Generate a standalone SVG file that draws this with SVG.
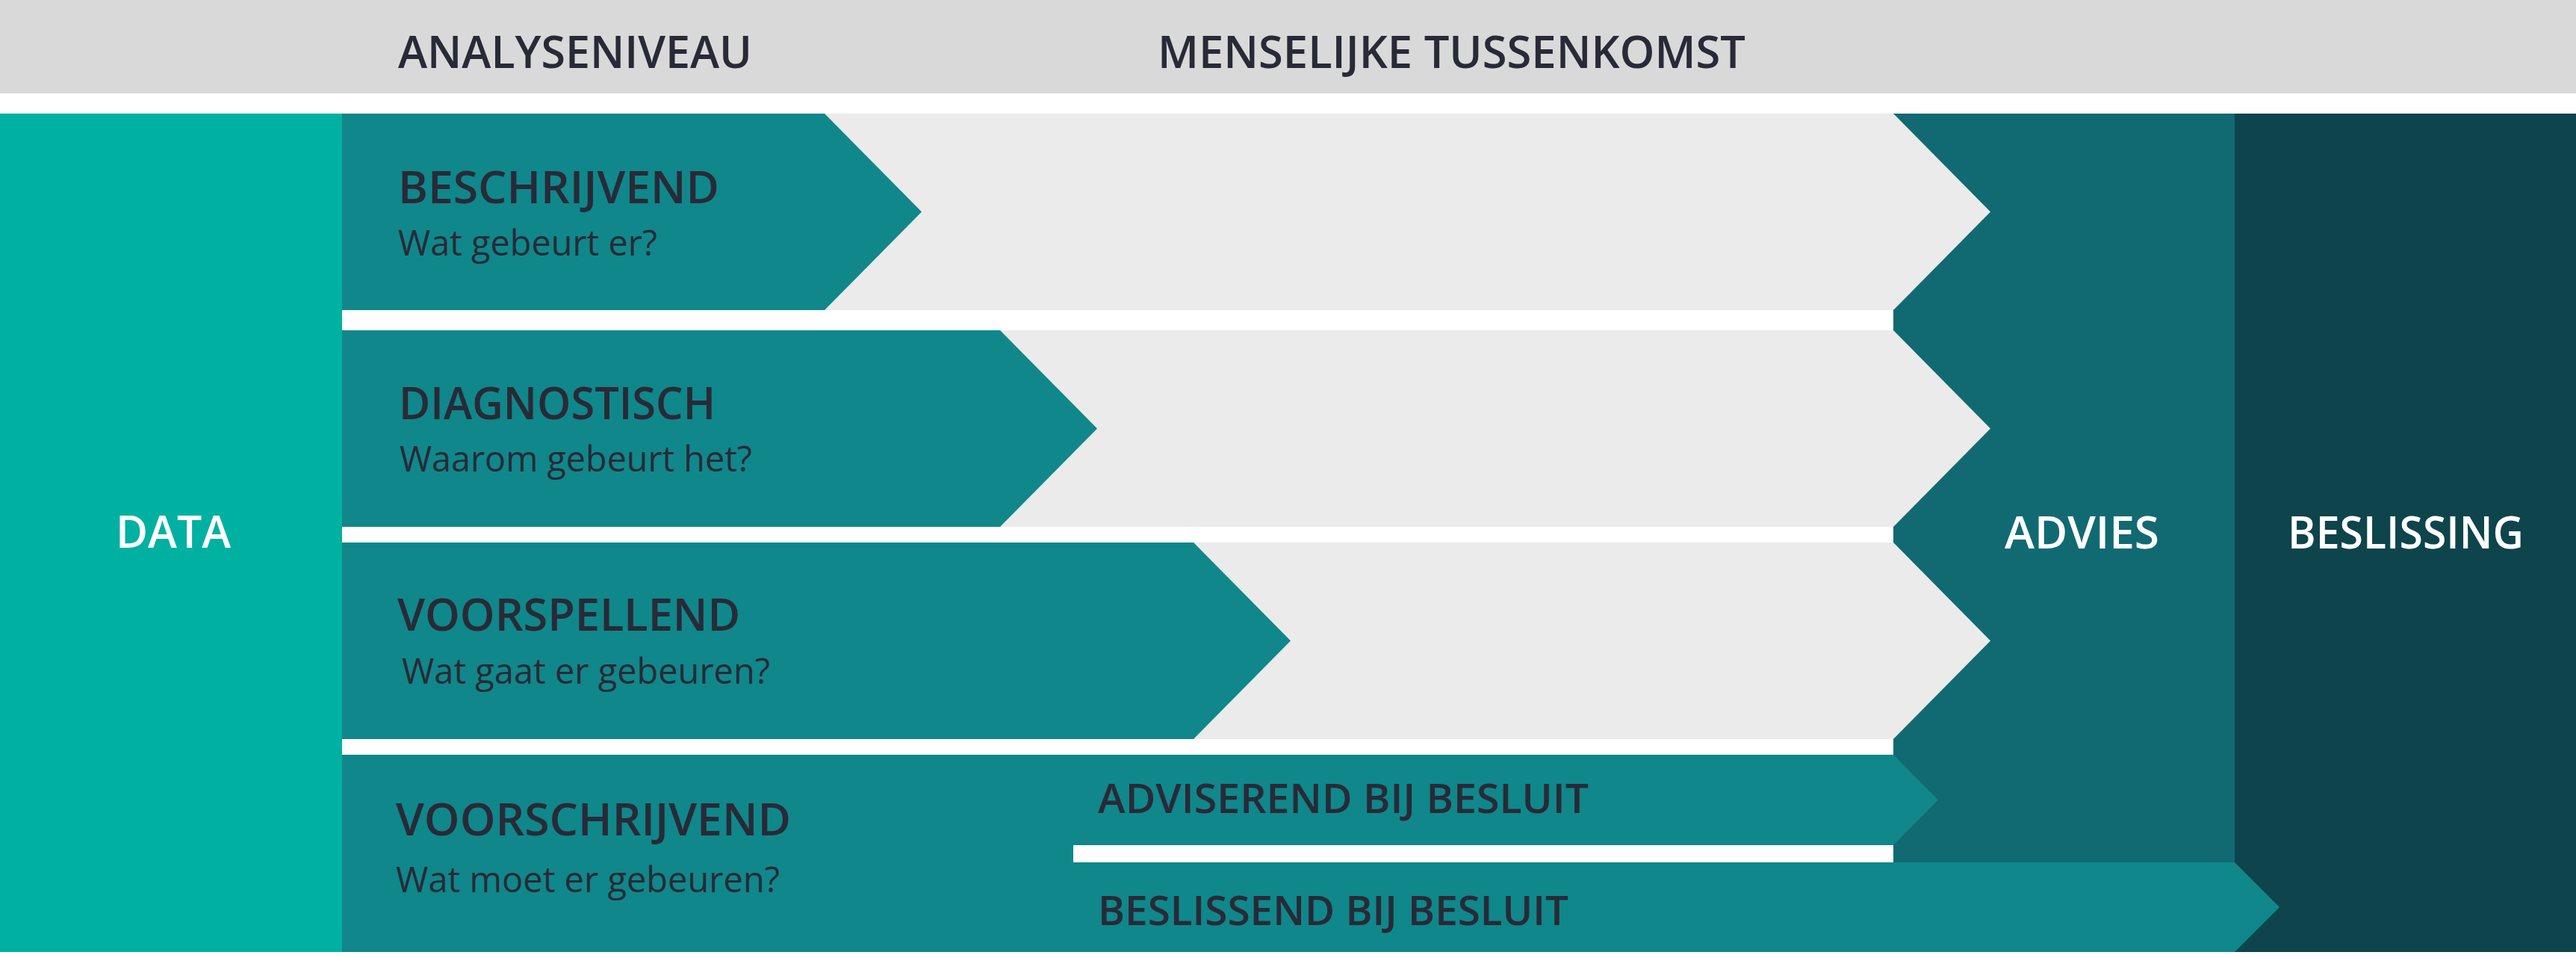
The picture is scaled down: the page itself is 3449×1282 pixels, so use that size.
<svg xmlns="http://www.w3.org/2000/svg" width="3449" height="1282" viewBox="0 0 3449 1282">
<style>
.hdr{font-family:"Open Sans","Noto Sans","DejaVu Sans",sans-serif;font-weight:600;font-size:59px;fill:#282a37}
.h{font-family:"Open Sans","Noto Sans","DejaVu Sans",sans-serif;font-weight:600;font-size:60px;fill:#282a37}
.s{font-family:"Open Sans","Noto Sans","DejaVu Sans",sans-serif;font-weight:400;font-size:48px;fill:#282a37}
.b{font-family:"Open Sans","Noto Sans","DejaVu Sans",sans-serif;font-weight:600;font-size:55px;fill:#282a37}
.w{font-family:"Open Sans","Noto Sans","DejaVu Sans",sans-serif;font-weight:600;font-size:60px;fill:#ffffff}
.gray{fill:#ebebeb}
.teal{fill:#10878a}
</style>
<rect width="3449" height="1282" fill="#ffffff"/>
<g id="header">
<rect x="0" y="0" width="3449" height="125" fill="#d9d9d9"/>
<text class="hdr" x="533" y="91" textLength="474" lengthAdjust="spacingAndGlyphs">ANALYSENIVEAU</text>
<text class="hdr" x="1550" y="91" textLength="787" lengthAdjust="spacingAndGlyphs">MENSELIJKE TUSSENKOMST</text>
</g>
<g id="data">
<rect x="0" y="152" width="458" height="1122" fill="#00b1a2"/>
<text class="w" x="155" y="733" textLength="154" lengthAdjust="spacingAndGlyphs">DATA</text>
</g>
<g id="advies">
<rect x="2535" y="152" width="457" height="1002" fill="#116a72"/>
<text class="w" x="2684" y="734" textLength="207" lengthAdjust="spacingAndGlyphs">ADVIES</text>
</g>
<g id="beslissing">
<rect x="2992" y="152" width="457" height="1122" fill="#0e444b"/>
<text class="w" x="3063" y="734" textLength="316" lengthAdjust="spacingAndGlyphs">BESLISSING</text>
</g>
<g id="beschrijvend">
<polygon class="gray" points="458,152 2535,152 2665,283.5 2535,415 458,415"/>
<polygon class="teal" points="458,152 1104,152 1234,283.5 1104,415 458,415"/>
<text class="h" x="533" y="272" textLength="430" lengthAdjust="spacingAndGlyphs">BESCHRIJVEND</text>
<text class="s" x="533" y="342" textLength="347" lengthAdjust="spacingAndGlyphs">Wat gebeurt er?</text>
</g>
<g id="diagnostisch">
<polygon class="gray" points="458,442 2535,442 2665,573.5 2535,705 458,705"/>
<polygon class="teal" points="458,442 1339,442 1469,573.5 1339,705 458,705"/>
<text class="h" x="534" y="561" textLength="424" lengthAdjust="spacingAndGlyphs">DIAGNOSTISCH</text>
<text class="s" x="535" y="631" textLength="472" lengthAdjust="spacingAndGlyphs">Waarom gebeurt het?</text>
</g>
<g id="voorspellend">
<polygon class="gray" points="458,726 2535,726 2665,857.5 2535,989 458,989"/>
<polygon class="teal" points="458,726 1598,726 1728,857.5 1598,989 458,989"/>
<text class="h" x="532" y="844" textLength="459" lengthAdjust="spacingAndGlyphs">VOORSPELLEND</text>
<text class="s" x="538" y="915" textLength="493" lengthAdjust="spacingAndGlyphs">Wat gaat er gebeuren?</text>
</g>
<g id="voorschrijvend">
<rect class="teal" x="458" y="1010" width="979" height="264"/>
<text class="h" x="530" y="1118" textLength="529" lengthAdjust="spacingAndGlyphs">VOORSCHRIJVEND</text>
<text class="s" x="530" y="1194" textLength="514" lengthAdjust="spacingAndGlyphs">Wat moet er gebeuren?</text>
</g>
<g id="adviserend-bij-besluit">
<polygon class="teal" points="1436,1010 2535,1010 2595,1070.5 2535,1131 1436,1131"/>
<text class="b" x="1470" y="1088" textLength="657" lengthAdjust="spacingAndGlyphs">ADVISEREND BIJ BESLUIT</text>
</g>
<g id="beslissend-bij-besluit">
<polygon class="teal" points="1436,1154 2992,1154 3052,1214 2992,1274 1436,1274"/>
<text class="b" x="1470" y="1238" textLength="630" lengthAdjust="spacingAndGlyphs">BESLISSEND BIJ BESLUIT</text>
</g>
<g id="connectors"/>
</svg>
